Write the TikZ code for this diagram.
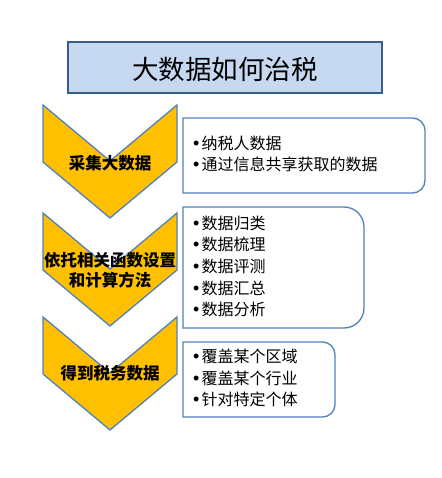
\documentclass[tikz,border=0pt]{standalone}
\usepackage{fontspec}
\setmainfont{Noto Sans CJK SC}
\newfontfamily\bltfont{Liberation Sans}
\definecolor{titlefill}{RGB}{198,217,241}
\definecolor{titleline}{RGB}{56,93,138}
\definecolor{chevfill}{RGB}{255,192,0}
\definecolor{chevline}{RGB}{79,129,189}
\newcommand{\blt}{{\bltfont\fontsize{18}{21.7}\selectfont •}\hspace{2pt}}

\begin{document}
\begin{tikzpicture}[x=1pt,y=-1pt,
  titlebox/.style={draw=titleline,line width=1.8pt,fill=titlefill},
  chevron/.style={draw=chevline,line width=1.3pt,fill=chevfill,line join=miter},
  chevtext/.style={font=\fontsize{16.5}{20}\selectfont\bfseries,align=center,inner sep=0pt},
  listbox/.style={draw=chevline,line width=1.3pt,fill=white},
  listtext/.style={font=\fontsize{16}{21.7}\selectfont,align=left,anchor=west,inner sep=0pt}]
\useasboundingbox (0,0) rectangle (441,478);

% title
\draw[titlebox] (68,42) rectangle (382,93);
\node[font=\fontsize{26.5}{30}\selectfont,inner sep=0pt] (title) at (225,69) {大数据如何治税};

% chevrons
\foreach \t in {105,213,317}
  \draw[chevron] (43,\t) -- (110,\t+56) -- (177,\t) -- (177,\t+57) -- (110,\t+113) -- (43,\t+57) -- cycle;
\node[chevtext] (s1) at (110,163) {采集大数据};
\node[chevtext] (s2) at (110,270) {依托相关函数设置\\和计算方法};
\node[chevtext] (s3) at (110,373) {得到税务数据};

% lists
\draw[listbox] (183,193) -- (183,118) [rounded corners=12.5] -- (425,118) -- (425,193) [sharp corners] -- cycle;
\draw[listbox] (183,328) -- (183,207) [rounded corners=20] -- (364,207) -- (364,328) [sharp corners] -- cycle;
\draw[listbox] (183,417) -- (183,342) [rounded corners=12.5] -- (335,342) -- (335,417) [sharp corners] -- cycle;
\node[listtext] (l1) at (193,154) {\blt 纳税人数据\\\blt 通过信息共享获取的数据};
\node[listtext] (l2) at (193,266.5) {\blt 数据归类\\\blt 数据梳理\\\blt 数据评测\\\blt 数据汇总\\\blt 数据分析};
\node[listtext] (l3) at (193,378) {\blt 覆盖某个区域\\\blt 覆盖某个行业\\\blt 针对特定个体};
\end{tikzpicture}
\end{document}
